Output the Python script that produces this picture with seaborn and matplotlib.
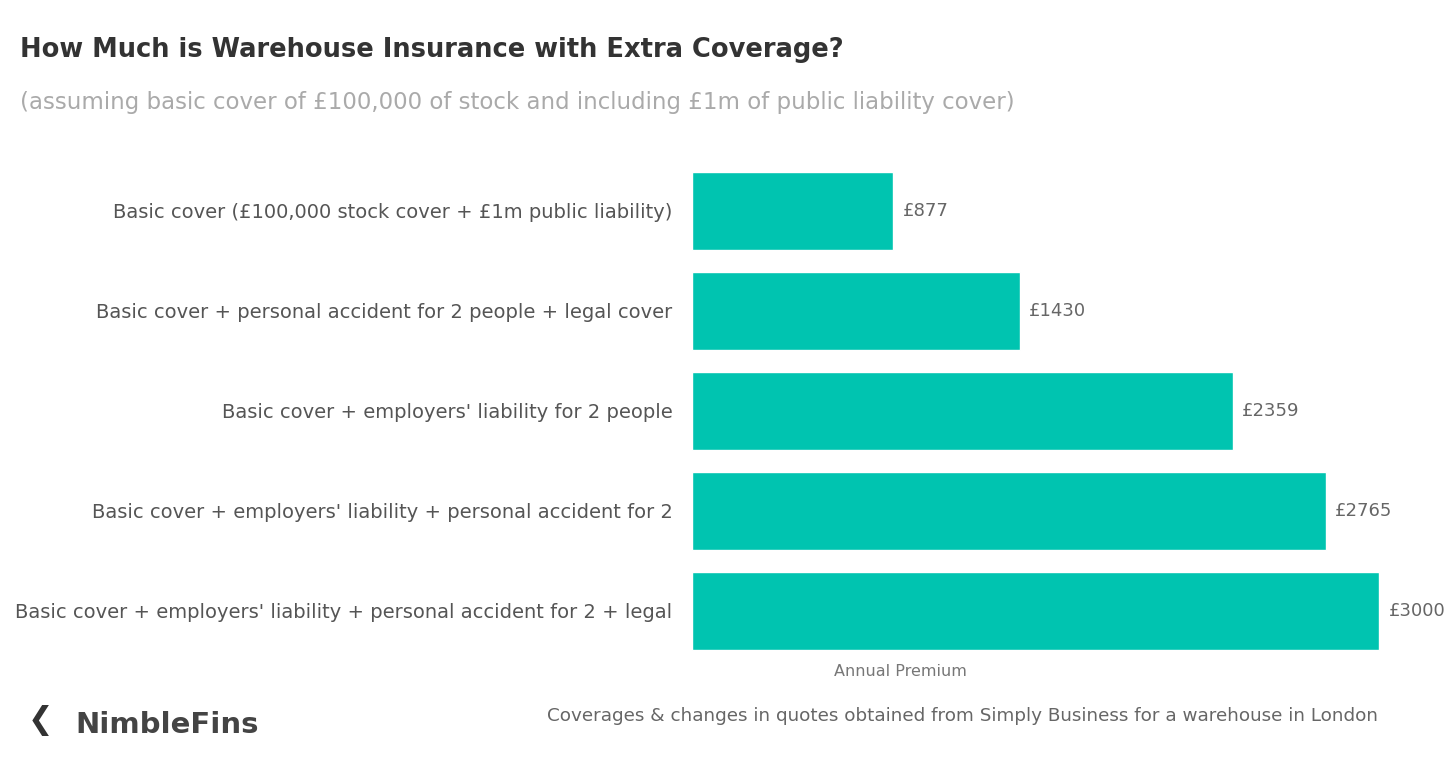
import matplotlib
matplotlib.use("Agg")
import matplotlib.pyplot as plt
import seaborn as sns
import pandas as pd

categories = [
    "Basic cover (£100,000 stock cover + £1m public liability)",
    "Basic cover + personal accident for 2 people + legal cover",
    "Basic cover + employers' liability for 2 people",
    "Basic cover + employers' liability + personal accident for 2",
    "Basic cover + employers' liability + personal accident for 2 + legal",
]
premiums = [877, 1430, 2359, 2765, 3000]
value_labels = ["£877", "£1430", "£2359", "£2765", "£3000"]

title = "How Much is Warehouse Insurance with Extra Coverage?"
subtitle = "(assuming basic cover of £100,000 of stock and including £1m of public liability cover)"
x_label = "Annual Premium"
footer = "Coverages & changes in quotes obtained from Simply Business for a warehouse in London"
brand = "NimbleFins"

df = pd.DataFrame({"cover": categories, "premium": premiums})

sns.set_theme(style="white")
plt.rcParams["font.family"] = ["DejaVu Sans"]

fig = plt.figure(figsize=(14.54, 7.7), dpi=100)
ax = fig.add_axes([692 / 1454, (770 - 661) / 770, (1400 - 692) / 1454, 500 / 770])

sns.barplot(data=df, x="premium", y="cover", color="#00C4B0", saturation=1,
            width=0.78, ax=ax, orient="h")

ax.set_xlim(0, max(premiums) * 1.03)
ax.set_ylim(4.5, -0.5)
ax.set_xticks([])
ax.set_ylabel("")
ax.set_xlabel(x_label, fontsize=11.5, color="#777777")
ax.xaxis.set_label_coords((900 - 692) / (1400 - 692), -0.005)
ax.xaxis.label.set_va("top")
for s in ax.spines.values():
    s.set_visible(False)
ax.tick_params(axis="y", length=0, pad=14, labelsize=14, labelcolor="#555555")

for i, (v, lab) in enumerate(zip(premiums, value_labels)):
    ax.annotate(lab, xy=(v, i), xytext=(7, 0), textcoords="offset points",
                va="center", ha="left", fontsize=13, color="#666666")

fig.text(20 / 1454, 1 - 50 / 770, title, fontsize=18.5, fontweight="bold",
         color="#333333", va="center", ha="left")
fig.text(20 / 1454, 1 - 103 / 770, subtitle, fontsize=16.5, color="#aaaaaa",
         va="center", ha="left")
fig.text(1378 / 1454, 1 - 716 / 770, footer, fontsize=13.2, color="#666666",
         va="center", ha="right")
fig.text(75 / 1454, 1 - 725 / 770, brand, fontsize=21, fontweight="bold",
         color="#444444", va="center", ha="left")
fig.text(28 / 1454, 1 - 720 / 770, "❮", fontsize=22, fontweight="bold",
         color="#333333", va="center", ha="left")

fig.savefig("out.png", dpi=100, facecolor="white")
